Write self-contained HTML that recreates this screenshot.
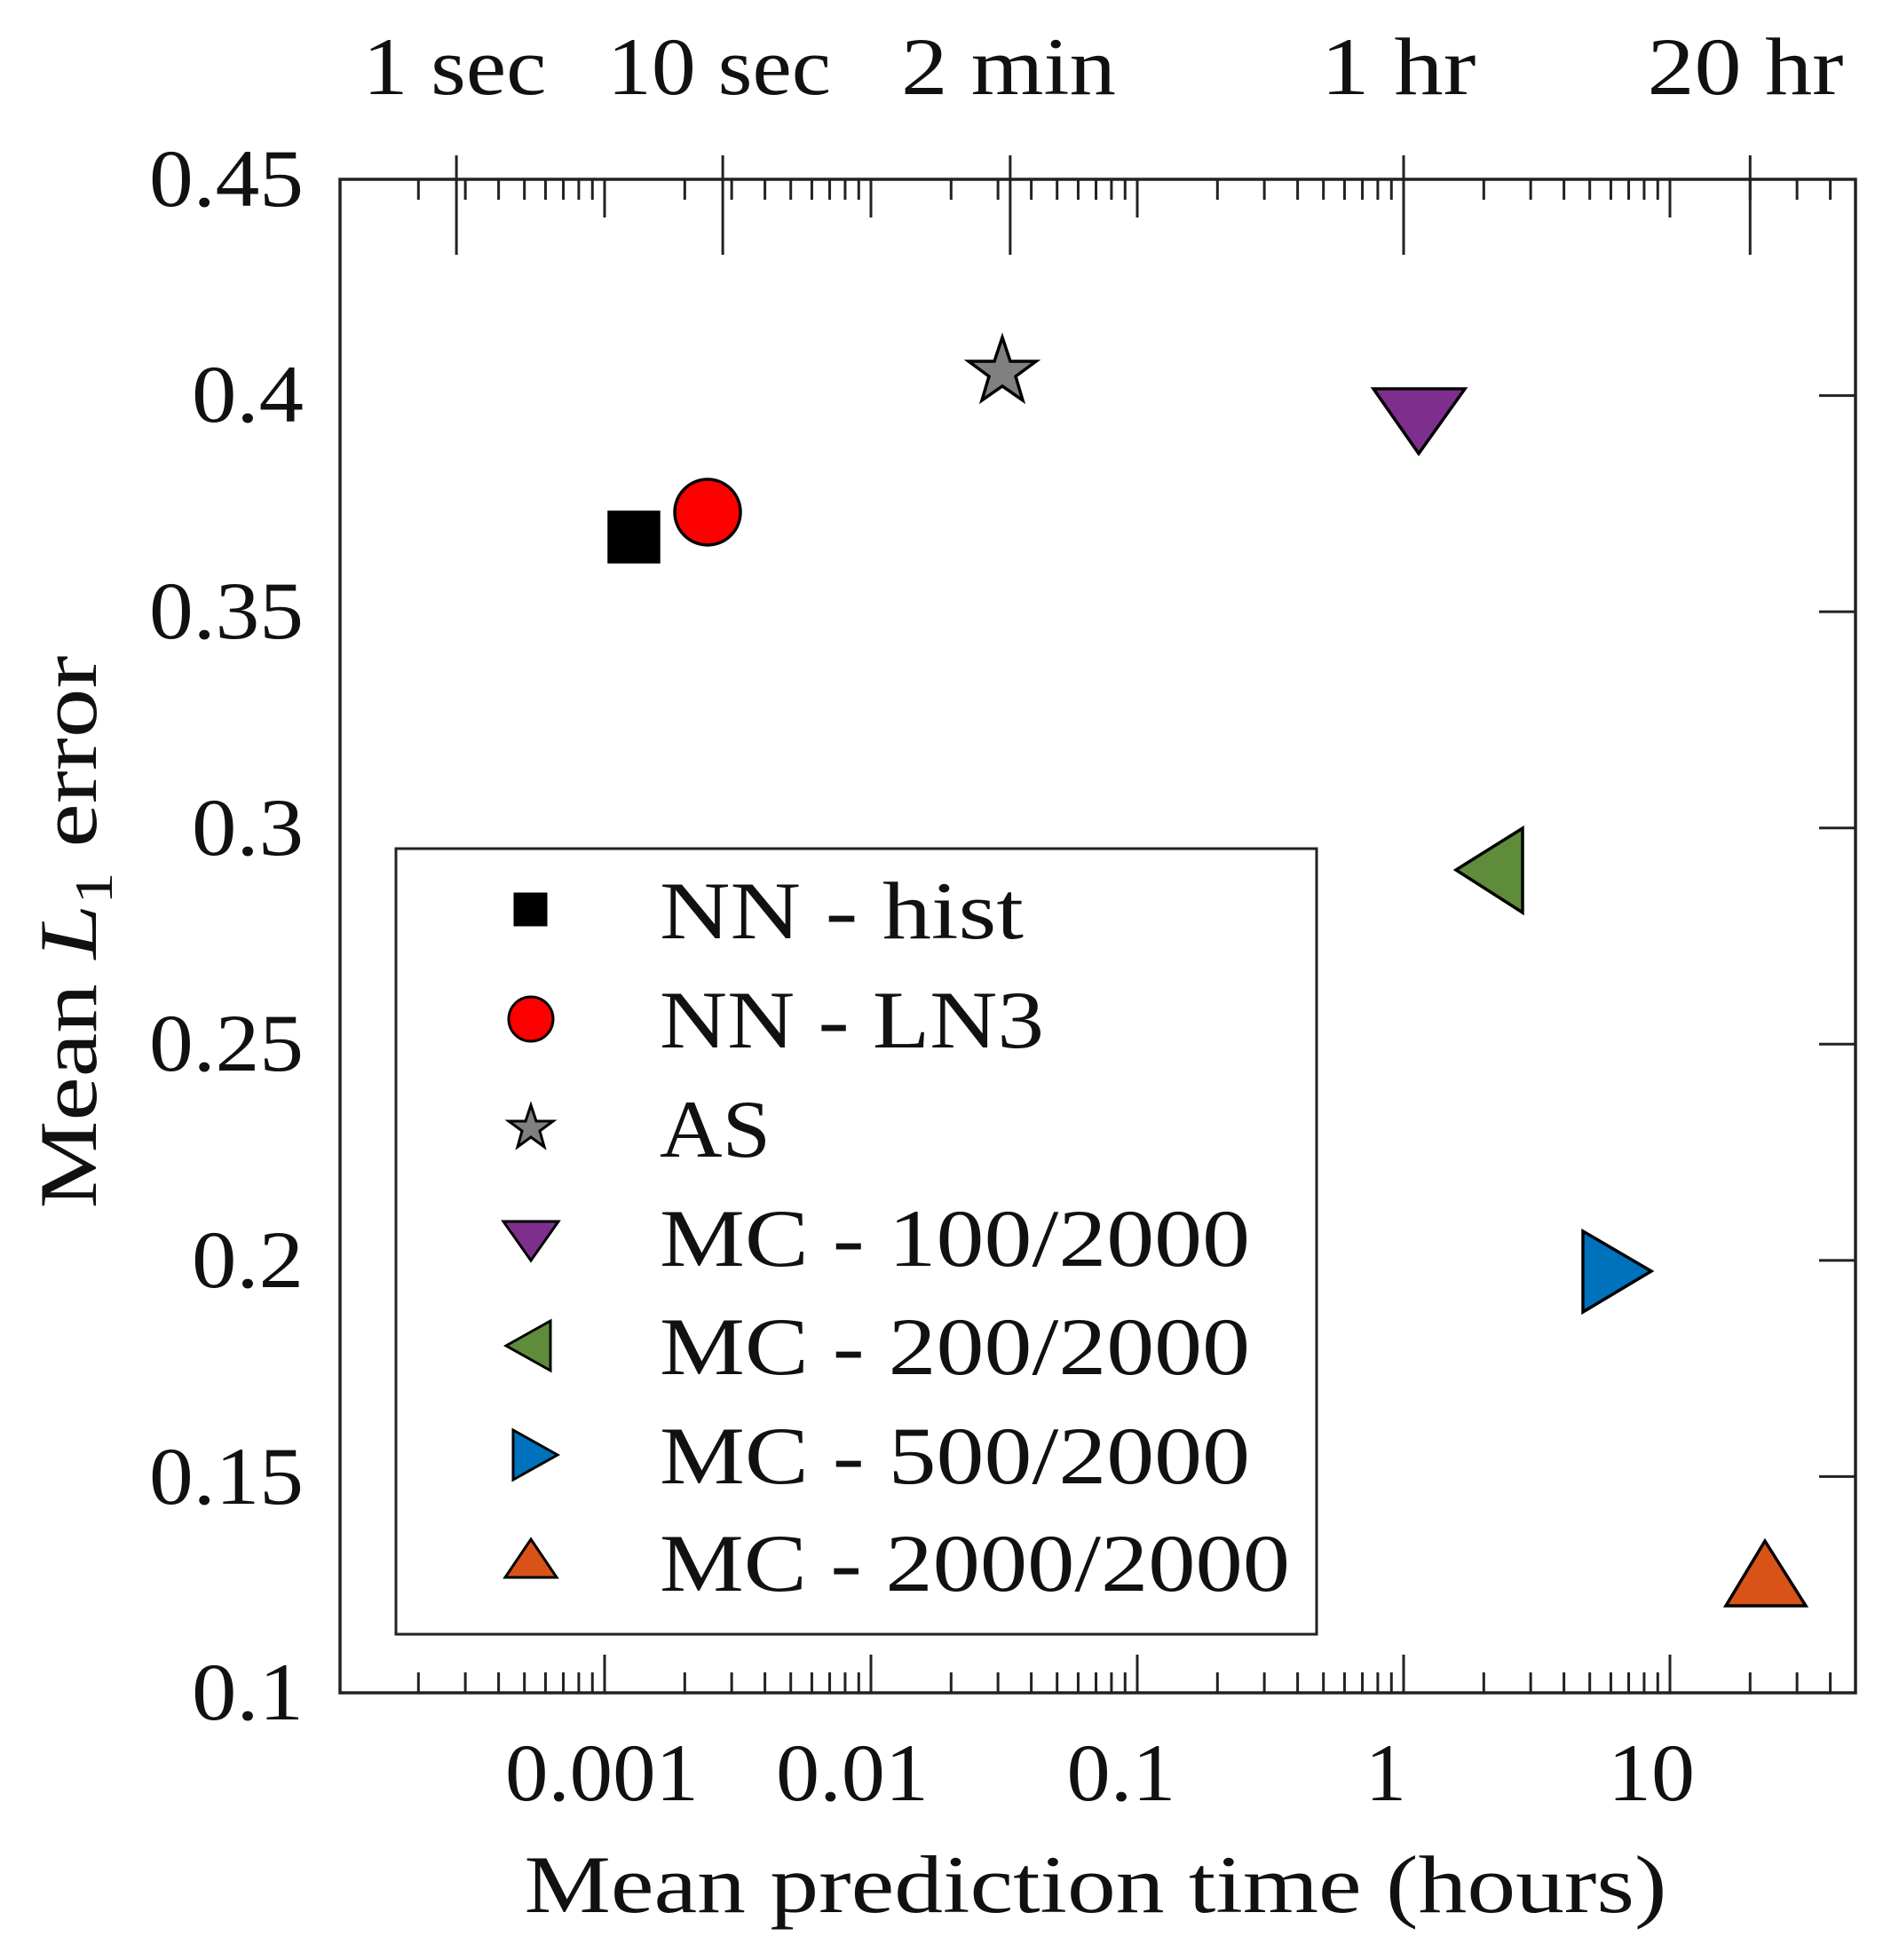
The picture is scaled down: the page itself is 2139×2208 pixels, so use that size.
<!DOCTYPE html>
<html><head><meta charset="utf-8"><style>
html,body{margin:0;padding:0;background:#fff;}
svg{display:block;}
text{font-family:"Liberation Serif",serif;fill:#111;}
</style></head><body>
<svg id="s" width="2139" height="2208" viewBox="0 0 2139 2208" xmlns="http://www.w3.org/2000/svg">
<g id="ticks" stroke="#222" stroke-width="3"></g>
<rect x="383" y="202" width="1707" height="1705" fill="none" stroke="#222" stroke-width="3.5"/>
<g font-size="92" text-anchor="end">
<text x="342" y="232" textLength="174" lengthAdjust="spacingAndGlyphs">0.45</text>
<text x="342" y="475" textLength="126" lengthAdjust="spacingAndGlyphs">0.4</text>
<text x="342" y="719" textLength="174" lengthAdjust="spacingAndGlyphs">0.35</text>
<text x="342" y="963" textLength="126" lengthAdjust="spacingAndGlyphs">0.3</text>
<text x="342" y="1206" textLength="174" lengthAdjust="spacingAndGlyphs">0.25</text>
<text x="342" y="1450" textLength="126" lengthAdjust="spacingAndGlyphs">0.2</text>
<text x="342" y="1694" textLength="174" lengthAdjust="spacingAndGlyphs">0.15</text>
<text x="342" y="1937" textLength="126" lengthAdjust="spacingAndGlyphs">0.1</text>
</g>
<g font-size="92" text-anchor="middle">
<text x="678" y="2028" textLength="218" lengthAdjust="spacingAndGlyphs">0.001</text>
<text x="960" y="2028" textLength="172" lengthAdjust="spacingAndGlyphs">0.01</text>
<text x="1263" y="2028" textLength="123" lengthAdjust="spacingAndGlyphs">0.1</text>
<text x="1561" y="2028">1</text>
<text x="1860" y="2028" textLength="98" lengthAdjust="spacingAndGlyphs">10</text>
</g>
<g font-size="92" text-anchor="middle">
<text x="512" y="106" textLength="207" lengthAdjust="spacingAndGlyphs">1 sec</text>
<text x="810" y="106" textLength="252" lengthAdjust="spacingAndGlyphs">10 sec</text>
<text x="1136" y="106" textLength="242" lengthAdjust="spacingAndGlyphs">2 min</text>
<text x="1575" y="106" textLength="175" lengthAdjust="spacingAndGlyphs">1 hr</text>
<text x="1966" y="106" textLength="221" lengthAdjust="spacingAndGlyphs">20 hr</text>
</g>
<text x="1234" y="2154" font-size="92" text-anchor="middle" textLength="1287" lengthAdjust="spacingAndGlyphs">Mean prediction time (hours)</text>
<text transform="translate(108,1050) rotate(-90)" font-size="92" text-anchor="middle" textLength="623" lengthAdjust="spacingAndGlyphs">Mean <tspan font-style="italic">L</tspan><tspan font-size="60" dy="18">1</tspan><tspan dy="-18"> error</tspan></text>
<g stroke="#000" stroke-width="3.5" stroke-linejoin="miter">
<rect x="686" y="577" width="56" height="56" fill="#000"/>
<circle cx="797" cy="577" r="37" fill="#f00"/>
<polygon fill="#808080" points="1129,380 1138,407 1167,407 1144,424 1152,451 1129,435 1106,451 1114,424 1091,407 1120,407"/>
<polygon fill="#7E2F8E" points="1547,438 1650,438 1598,511"/>
<polygon fill="#5E8C3A" points="1640,980 1715,933 1715,1028"/>
<polygon fill="#0072BD" points="1783,1387 1860,1432 1783,1478"/>
<polygon fill="#D95319" points="1988,1736 2034,1809 1944,1809"/>
</g>
<rect x="446" y="956" width="1037" height="885" fill="#fff" stroke="#222" stroke-width="3"/>
<g stroke="#000" stroke-width="3">
<rect x="580" y="1007" width="35" height="35" fill="#000"/>
<circle cx="598" cy="1148" r="25" fill="#f00"/>
<polygon fill="#808080" points="598,1245 604,1263 623,1263 608,1274 613,1292 598,1281 583,1292 588,1274 573,1263 592,1263"/>
<polygon fill="#7E2F8E" points="567,1376 629,1376 598,1420"/>
<polygon fill="#5E8C3A" points="570,1516 620,1488 620,1544"/>
<polygon fill="#0072BD" points="578,1611 628,1639 578,1667"/>
<polygon fill="#D95319" points="598,1734 627,1777 569,1777"/>
</g>
<g font-size="92">
<text x="743" y="1057" textLength="410" lengthAdjust="spacingAndGlyphs">NN - hist</text>
<text x="743" y="1180" textLength="433" lengthAdjust="spacingAndGlyphs">NN - LN3</text>
<text x="743" y="1303" textLength="125" lengthAdjust="spacingAndGlyphs">AS</text>
<text x="743" y="1426" textLength="665" lengthAdjust="spacingAndGlyphs">MC - 100/2000</text>
<text x="743" y="1548" textLength="665" lengthAdjust="spacingAndGlyphs">MC - 200/2000</text>
<text x="743" y="1671" textLength="665" lengthAdjust="spacingAndGlyphs">MC - 500/2000</text>
<text x="743" y="1792" textLength="710" lengthAdjust="spacingAndGlyphs">MC - 2000/2000</text>
</g>
</svg>
<script>
(function(){
var g=document.getElementById('ticks'),ns='http://www.w3.org/2000/svg';
function L(x1,y1,x2,y2){var l=document.createElementNS(ns,'line');l.setAttribute('x1',x1);l.setAttribute('y1',y1);l.setAttribute('x2',x2);l.setAttribute('y2',y2);g.appendChild(l);}
var x0=381,d=300,L0=383,R=2090,T=202,B=1907;
for(var e=-4;e<=1;e++){for(var m=1;m<=9;m++){var x=x0+(e+4+Math.log10(m))*d;if(x<L0+2||x>R-2)continue;var len=(m==1)?43:23;L(x,B,x,B-len);L(x,T,x,T+len);}}
var big=[1/3600,10/3600,1/30,1,20];
big.forEach(function(v){var x=x0+(Math.log10(v)+4)*d;L(x,T-27,x,T+85);});
for(var i=1;i<7;i++){var y=T+i*(B-T)/7;L(R,y,R-41,y);}
})();
</script>
</body></html>
